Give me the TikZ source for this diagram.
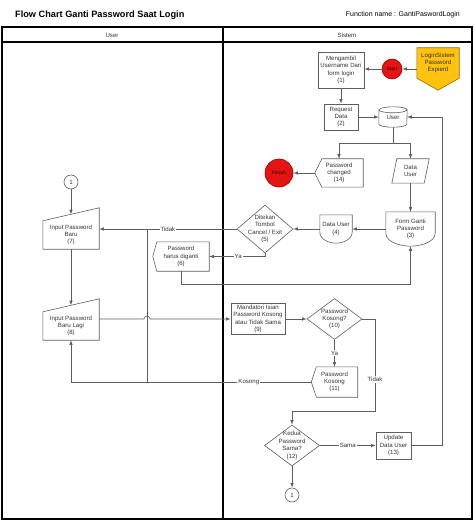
\documentclass[tikz,border=0pt]{standalone}
\usepackage{fontspec}
\setmainfont{Liberation Sans}
\usetikzlibrary{shapes,arrows}
\usetikzlibrary{positioning}
\usetikzlibrary{shapes.geometric,backgrounds}

\definecolor{linec}{HTML}{5E5E5E}
\definecolor{txtc}{HTML}{333333}
\definecolor{startred}{HTML}{E51414}
\definecolor{expgold}{HTML}{FFC20E}

\begin{document}
\begin{tikzpicture}[x=1pt,y=-1pt,
  every node/.style={font=\fontsize{6.1}{7.4}\selectfont,text=txtc,align=center,inner sep=0pt},
  box/.style={draw=linec,line width=.6pt},
  proc/.style={box,rectangle},
  decision/.style={box,diamond,inner sep=-7pt},
  term/.style={circle,draw=red!60!black,fill=startred,line width=.6pt,
    font=\fontsize{4.8}{5}\selectfont\bfseries,text=red!35!black},
  conn/.style={box,circle,minimum size=14pt},
  flow/.style={linec,line width=.6pt,-latex},
  line/.style={linec,line width=.6pt},
  lbl/.style={fill=white,inner sep=1pt},
  pool/.style={black,line width=1.5pt}]

  \useasboundingbox (0,0) rectangle (474,521);

  % title
  \node[anchor=west,font=\fontsize{9.2}{11}\selectfont\bfseries,text=black] (title) at (15,15)
    {Flow Chart Ganti Password Saat Login};
  \node[anchor=east,font=\fontsize{7}{8}\selectfont,text=black] (fname) at (460,15)
    {Function name : GantiPaswordLogin};

  % lanes
  \draw[pool] (2,27) rectangle (472,519);
  \draw[pool] (2,42) -- (472,42);
  \draw[pool] (223,27) -- (223,519);
  \node (laneU) at (112,35) {User};
  \node (laneS) at (347,35) {Sistem};

  % Sistem
  \node[minimum width=42pt,minimum height=30pt] (exp) at (438,63) {LoginSistem\\Password\\Expierd};
  \begin{scope}[on background layer]
    \draw[draw=expgold!55!black,fill=expgold,line width=.6pt] (exp.north west) -- (exp.north east)
      -- (exp.south east) -- ([yshift=-12pt]exp.south) -- (exp.south west) -- cycle;
  \end{scope}
  \node[term,minimum size=20pt] (start) at (392,69) {Start};
  \node[proc,minimum width=46pt,minimum height=36pt] (n1) at (341,70) {Mengambil\\Username Dari\\form login\\(1)};
  \node[proc,minimum width=34pt,minimum height=26pt] (n2) at (341,117) {Request\\Data\\(2)};

  \node[minimum width=28pt,minimum height=20pt] (db) at (393,117) {User};
  \draw[box] ([yshift=-3pt]db.north west) -- ([yshift=3pt]db.south west) arc (180:360:14pt and 3pt)
    -- ([yshift=-3pt]db.north east) arc (0:180:14pt and 3pt) -- cycle
    ([yshift=-3pt]db.north west) arc (180:360:14pt and 3pt);

  \node[minimum width=48pt,minimum height=28pt] (n14) at (339,173) {Password\\changed\\(14)};
  \draw[box] (n14.north east) -- (n14.south east) -- ([xshift=7pt]n14.south west) -- (n14.west)
    -- ([xshift=7pt]n14.north west) -- cycle;
  \node[term,minimum size=28pt] (finish) at (279,173) {Finish};

  \node[minimum width=37pt,minimum height=24pt] (du1) at (410.5,171) {Data\\User};
  \draw[box] ([xshift=5pt]du1.north west) -- (du1.north east) -- ([xshift=-5pt]du1.south east)
    -- (du1.south west) -- cycle;

  \node[minimum width=49pt,minimum height=34pt] (n3) at (410.5,229) {Form Ganti\\Password\\(3)};
  \draw[box] (n3.north west) -- (n3.north east) -- ([yshift=-4pt]n3.east)
    .. controls ([yshift=-14pt]n3.east) and ([xshift=8pt]n3.south) .. (n3.south)
    .. controls ([xshift=-8pt]n3.south) and ([yshift=-14pt]n3.west) .. ([yshift=-4pt]n3.west) -- cycle;

  \node[minimum width=32pt,minimum height=28pt] (n4) at (336,229) {Data User\\(4)};
  \draw[box] (n4.north west) -- (n4.north east) -- ([yshift=-3pt]n4.east)
    .. controls ([yshift=-11pt]n4.east) and ([xshift=6pt]n4.south) .. (n4.south)
    .. controls ([xshift=-6pt]n4.south) and ([yshift=-11pt]n4.west) .. ([yshift=-3pt]n4.west) -- cycle;

  \node[decision,minimum width=56pt,minimum height=48pt] (d5) at (265,229) {Ditekan\\Tombol\\Cancel / Exit\\(5)};

  \node[minimum width=56pt,minimum height=29pt] (n6) at (181,256.5) {Password\\harus diganti\\(6)};
  \draw[box] (n6.north east) -- (n6.south east) -- ([xshift=4pt]n6.south west) -- (n6.west)
    -- ([xshift=4pt]n6.north west) -- cycle;

  \node[proc,minimum width=54pt,minimum height=31pt] (n9) at (258,319) {Mandatori Isian\\Password Kosong\\atau Tidak Sama\\(9)};
  \node[decision,minimum width=55pt,minimum height=41pt] (d10) at (334.5,319) {Password\\Kosong?\\(10)};

  \node[minimum width=46pt,minimum height=30pt] (n11) at (334.5,382) {Password\\Kosong\\(11)};
  \draw[box] (n11.north east) -- (n11.south east) -- ([xshift=5pt]n11.south west) -- (n11.west)
    -- ([xshift=5pt]n11.north west) -- cycle;

  \node[decision,minimum width=55pt,minimum height=41pt] (d12) at (292,445.5) {Kedua\\Password\\Sama?\\(12)};
  \node[proc,minimum width=35pt,minimum height=27pt] (n13) at (393.5,445.5) {Update\\Data User\\(13)};
  \node[conn] (c1b) at (292,495) {1};

  % User
  \node[conn] (c1a) at (71,182) {1};
  \node[minimum width=56pt,minimum height=28pt] (n7) at (71,235) {Input Password\\Baru\\(7)};
  \draw[box] (n7.north west) -- ([yshift=13pt]n7.north east) -- (n7.south east) -- (n7.south west) -- cycle;
  \node[minimum width=56pt,minimum height=28pt] (n8) at (71,326) {Input Password\\Baru Lagi\\(8)};
  \draw[box] (n8.north west) -- ([yshift=13pt]n8.north east) -- (n8.south east) -- (n8.south west) -- cycle;

  \coordinate (j1) at (147,229);
  \coordinate (j2) at (147,382);
  \coordinate (k1) at (375,411);

  % connectors
  \draw[flow] (exp.west |- start) -- (start);
  \draw[flow] (start) -- (start -| n1.east);
  \draw[flow] (n1) -- (n2);
  \draw[flow] (n2) -- (db);
  \draw[flow] (db.south) -- ++(0,16) -| (n14.north);
  \draw[flow] (db.south) -- ++(0,16) -| (du1.north);
  \draw[flow] (n14.west) -- (finish);
  \draw[flow] (du1.south) -- (n3.north);
  \draw[flow] (n3.west) -- (n4.east);
  \draw[flow] (n4.west) -- (d5.east);
  \draw[flow] (d5.west) -- node[lbl]{Tidak} (d5.west -| n7.east);
  \draw[flow] (d5.south) |- node[lbl,pos=.74]{Ya} (n6.east);
  \draw[flow] (n6.south) -- ++(0,13) -| (n3.south);
  \draw[flow] (c1a) -- ([yshift=6.5pt]n7.north);
  \draw[flow] (n7) -- ([yshift=6.5pt]n8.north);
  \draw[line] (j1) -- (j2);
  \draw[flow] (n8.east |- n9) -- ([xshift=-3pt]j1 |- n9) arc (180:0:3pt) -- (n9.west);
  \draw[flow] (n9) -- (d10);
  \draw[flow] (d10) -- node[lbl]{Ya} (n11);
  \draw[flow] (n11.west) -| node[lbl,pos=.13]{Kosong} (n8.south);
  \draw[flow] (d10.east) -| node[lbl,pos=.83]{Tidak} (k1) -| (d12.north);
  \draw[flow] (d12) -- node[lbl]{Sama} (n13);
  \draw[flow] (n13.east) -| ([xshift=35pt]db.east) -- (db.east);
  \draw[flow] (d12) -- (c1b);

\end{tikzpicture}
\end{document}
